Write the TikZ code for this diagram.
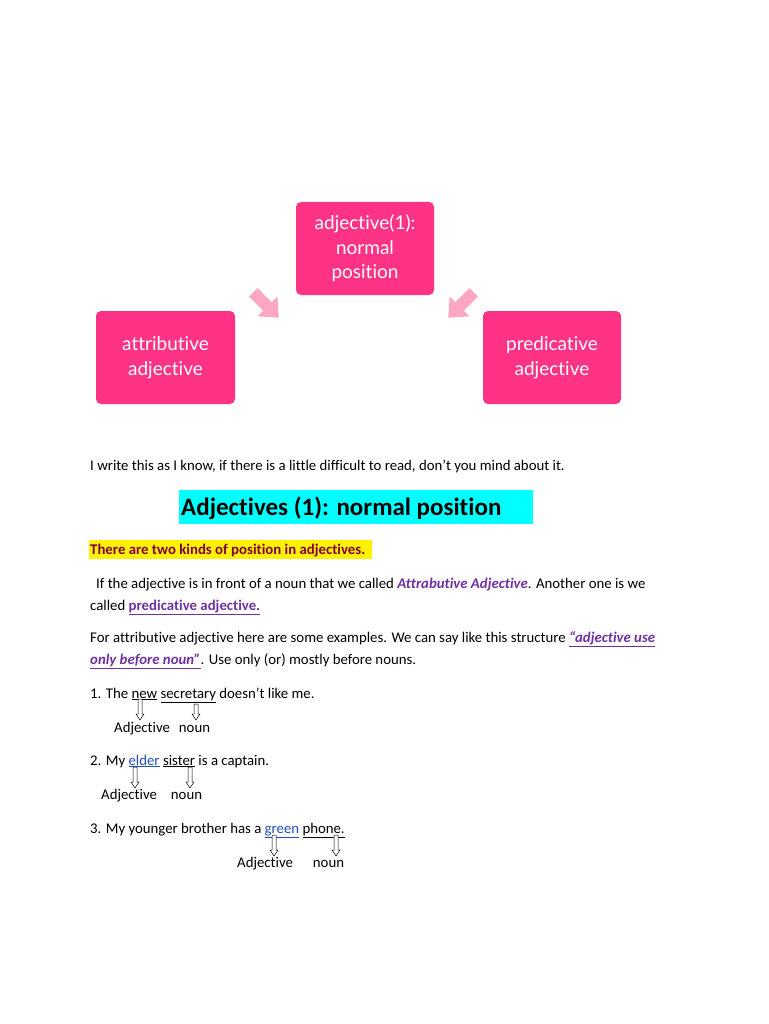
\documentclass[tikz,border=0pt]{standalone}
\usepackage{fontspec}
\setmainfont[Ligatures=NoCommon]{Carlito}
\newfontfamily\boxfont[Ligatures=NoCommon]{Lato}
\definecolor{hot}{RGB}{255,51,133}
\definecolor{lpink}{RGB}{255,166,194}
\definecolor{purp}{RGB}{112,48,160}
\definecolor{dred}{RGB}{128,0,64}
\definecolor{blu}{RGB}{31,78,181}
\definecolor{cyanbg}{RGB}{0,255,255}
\begin{document}
\begin{tikzpicture}[x=1pt,y=-1pt,
  box/.style={fill=hot,rounded corners=5pt,text=white,align=center,font=\boxfont\fontsize{19}{24.5}\selectfont,inner sep=0},
  tx/.style={anchor=base west,inner sep=0,font=\fontsize{14.8}{17}\selectfont},
  harrow/.style={draw=black,line width=0.5pt,fill=white}]
\useasboundingbox (0,0) rectangle (768,1024);
\node[box,minimum width=138,minimum height=93] (top) at (365,248.5) {adjective(1):\\normal\\position};
\node[box,minimum width=139,minimum height=93] (lft) at (165.5,357.5) {attributive\\adjective};
\node[box,minimum width=138,minimum height=93] (rgt) at (552,357.5) {predicative\\adjective};
% block arrows (local: pointing +x, length 36)
\newcommand{\blockarr}[3]{\begin{scope}[shift={(#1,#2)},rotate=#3]
\fill[lpink] (-18,-6) -- (2,-6) -- (2,-14) -- (18,0) -- (2,14) -- (2,6) -- (-18,6) -- cycle;\end{scope}}
\blockarr{266}{305}{-45}
\blockarr{461}{305}{-135}
\node[tx] (l0) at (90,470) {I write this as I know, if there is a little difficult to read, don’t you mind about it.};
\fill[cyanbg] (179,490) rectangle (533,524);
\node[tx,font=\fontsize{25}{28}\selectfont\bfseries] (title) at (181,515) {Adjectives (1): normal position};
\fill[yellow] (89,540) rectangle (372,559);
\node[tx,text=dred,font=\fontsize{14.8}{17}\selectfont\bfseries] (l1) at (90,554) {There are two kinds of position in adjectives.};
\node[tx] (l2) at (96,588) {If the adjective is in front of a noun that we called \textcolor{purp}{\bfseries\itshape Attrabutive Adjective}. Another one is we};
\node[tx] (l3) at (90,610) {called \textcolor{purp}{\bfseries\underline{predicative adjective.}}};
\node[tx] (l4) at (90,642) {For attributive adjective here are some examples. We can say like this structure \textcolor{purp}{\bfseries\itshape\underline{“adjective use}}};
\node[tx] (l5) at (90,664) {\textcolor{purp}{\bfseries\itshape\underline{only before noun”}}. Use only (or) mostly before nouns.};
\node[tx] (e1) at (90,698) {1. The \underline{new} \underline{secretary} doesn’t like me.};
\node[tx] (e1b) at (114,732) {Adjective\hspace{9pt}noun};
\node[tx] (e2) at (90,765) {2. My \textcolor{blu}{\underline{elder}} \underline{sister} is a captain.};
\node[tx] (e2b) at (101,799) {Adjective\hspace{14pt}noun};
\node[tx] (e3) at (90,833) {3. My younger brother has a \textcolor{blu}{\underline{green}} \underline{phone.}};
\node[tx] (e3b) at (237,867) {Adjective\hspace{20pt}noun};
\newcommand{\harr}[3]{\draw[harrow] (#1-2,#2) -- (#1+2,#2) -- (#1+2,#3-6) -- (#1+4,#3-6) -- (#1,#3) -- (#1-4,#3-6) -- (#1-2,#3-6) -- cycle;}
\harr{140}{699}{720}
\harr{196}{704}{720}
\harr{135}{767}{788}
\harr{190}{767}{788}
\harr{274}{835}{856}
\harr{336}{835}{856}
\end{tikzpicture}
\end{document}
